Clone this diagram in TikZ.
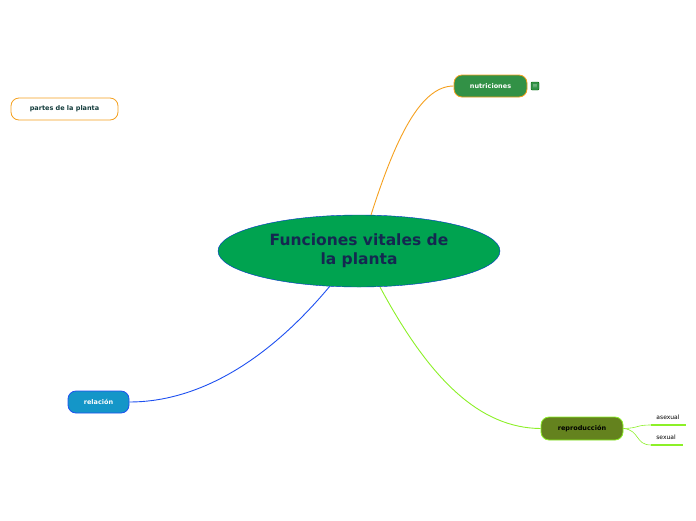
\documentclass[tikz,border=0pt]{standalone}
\usepackage{fontspec}
\setmainfont{DejaVu Sans}
\usetikzlibrary{shapes.geometric}
\definecolor{lime}{RGB}{140,240,40}
\definecolor{cgreen}{RGB}{0,163,80}
\definecolor{ctext}{RGB}{20,40,80}
\definecolor{ngreen}{RGB}{50,145,70}
\definecolor{rblue}{RGB}{20,150,200}
\definecolor{olive2}{RGB}{100,130,30}
\definecolor{ptext}{RGB}{20,60,60}
\definecolor{corange}{RGB}{245,160,30}
\definecolor{cblue}{RGB}{30,80,240}
\begin{document}
\begin{tikzpicture}[x=1pt,y=-1pt,
 box/.style={rounded corners=8pt,minimum height=22pt,font=\fontsize{6.5}{8}\selectfont\bfseries,line width=0.8pt,inner sep=0pt}]
\useasboundingbox (0,0) rectangle (696,520);
\node[ellipse,draw=blue!60!teal,fill=cgreen,minimum width=282pt,minimum height=72pt,inner sep=0pt,align=center,font=\fontsize{15.5}{19}\selectfont\bfseries,text=ctext] (c) at (359,251) {Funciones vitales de\\la planta};
\node[box,draw=corange,fill=ngreen,text=white,minimum width=73pt] (n) at (490.5,86) {nutriciones};
\node[fill=ngreen,draw=green!40!black,minimum size=8pt,inner sep=0pt,rounded corners=1pt,font=\fontsize{5}{5}\selectfont,text=white] (ic) at (535,86) {$\equiv$};
\node[box,draw=corange,fill=white,text=ptext,minimum width=107pt] (p) at (64.5,109) {partes de la planta};
\node[box,draw=cblue,fill=rblue,text=white,minimum width=61pt] (r) at (98.5,402) {relación};
\node[box,draw=lime,fill=olive2,text=black,minimum width=82pt,minimum height=23pt] (rp) at (582,428.5) {reproducción};
\node[font=\fontsize{6}{7}\selectfont,inner sep=1pt] (a) at (668,417) {asexual};
\node[font=\fontsize{6}{7}\selectfont,inner sep=1pt] (s) at (666,437) {sexual};
\coordinate (a1) at (651,425); \coordinate (a2) at (686,425);
\coordinate (s1) at (651,445); \coordinate (s2) at (683,445);
\draw[corange,line width=0.9pt] (371,215) .. controls (395,140) and (420,86) .. (n.west);
\draw[cblue,line width=0.9pt] (330,286) .. controls (260,370) and (190,402) .. (r.east);
\draw[lime,line width=0.9pt] (380,287) .. controls (430,380) and (480,428) .. (rp.west);
\draw[lime,line width=0.6pt] (rp.east) .. controls (640,428) and (635,425) .. (a1);
\draw[lime,line width=0.6pt] (rp.east) .. controls (640,430) and (635,445) .. (s1);
\draw[lime,line width=1.5pt] (a1) -- (a2);
\draw[lime,line width=1.5pt] (s1) -- (s2);
\end{tikzpicture}
\end{document}
